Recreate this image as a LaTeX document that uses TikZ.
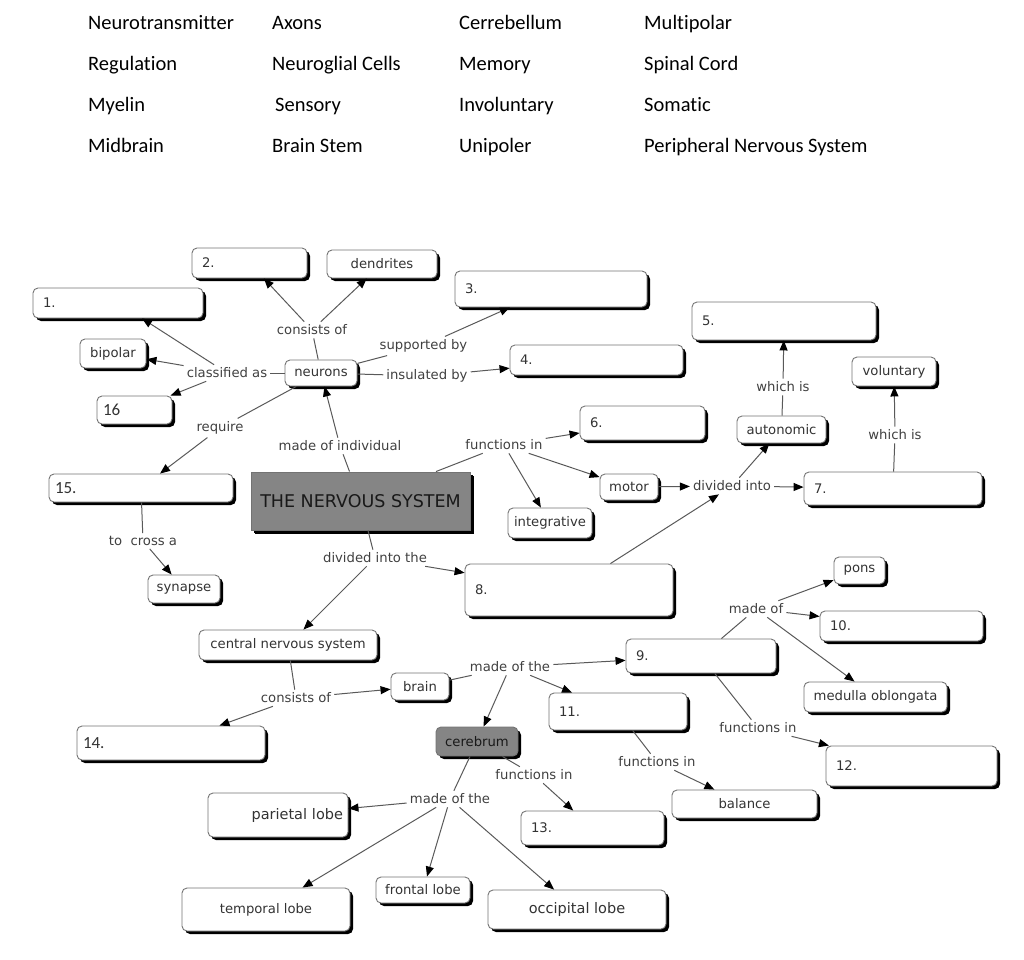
\documentclass[tikz,border=0pt]{standalone}
\usepackage{fontspec}
\usetikzlibrary{arrows.meta,shadows}
\newfontfamily\mapfont{DejaVu Sans}
\newfontfamily\bankfont[Ligatures=NoCommon]{Carlito}

\begin{document}
\begin{tikzpicture}[x=1pt,y=-1pt,
  box/.style={draw=black!55,line width=0.9pt,rounded corners=5pt,fill=white,
    text=black!80,font=\mapfont\fontsize{13.2}{15}\selectfont,inner sep=0pt,
    drop shadow={shadow xshift=3pt,shadow yshift=-3pt,fill=black,opacity=1}},
  blank/.style={box,align=left,inner xsep=10pt},
  blankc/.style={blank,inner xsep=6pt,font=\bankfont\fontsize{17}{19}\selectfont},
  dark/.style={box,fill=black!48,text=black!90},
  link/.style={draw=black!65,line width=1pt},
  arrow/.style={link,-{Triangle[length=10pt,width=8pt,color=black]}},
  lbl/.style={text=black!75,font=\mapfont\fontsize{13.2}{15}\selectfont,inner sep=3pt},
  word/.style={anchor=base west,font=\bankfont\fontsize{20.5}{24}\selectfont,inner sep=0pt}]
%\draw[help lines] (0,0) grid[step=50pt] (1024,959);
\useasboundingbox (0,0) rectangle (1024,959);

% word bank
\foreach \x/\y/\t [count=\n] in {88/29/Neurotransmitter, 272/29/Axons, 459/29/Cerrebellum, 644/29/Multipolar,
    88/70/Regulation, 272/70/Neuroglial Cells, 459/70/Memory, 644/70/Spinal Cord,
    88/111/Myelin, 275/111/Sensory, 459/111/Involuntary, 644/111/Somatic,
    88/152/Midbrain, 272/152/Brain Stem, 459/152/Unipoler, 644/152/Peripheral Nervous System}
  \node[word] (word\n) at (\x,\y) {\t};

% concepts
\node[blank,text width=150pt,minimum height=30pt] (one) at (118,303) {1.};
\node[blank,text width=95pt,minimum height=30pt] (two) at (249.5,263) {2.};
\node[box,minimum width=110pt,minimum height=28pt] (dendrites) at (382,264) {dendrites};
\node[blank,text width=172pt,minimum height=36pt] (three) at (551,289) {3.};
\node[box,minimum width=66pt,minimum height=29pt] (bipolar) at (113,353.5) {bipolar};
\node[box,minimum width=72pt,minimum height=26pt] (neurons) at (321,373) {neurons};
\node[blank,text width=153pt,minimum height=30pt] (four) at (596.5,360) {4.};
\node[blankc,text width=63pt,minimum height=28pt] (sixteen) at (134.5,410) {16};
\node[blank,text width=164pt,minimum height=38pt] (five) at (784,321) {5.};
\node[box,minimum width=84pt,minimum height=29pt] (voluntary) at (894,371.5) {voluntary};
\node[blank,text width=105pt,minimum height=34pt] (six) at (642.5,423) {6.};
\node[box,minimum width=89pt,minimum height=27pt] (autonomic) at (781.5,429.5) {autonomic};
\node[blankc,text width=172pt,minimum height=28pt] (fifteen) at (141,488) {15.};
\node[dark,sharp corners,minimum width=219pt,minimum height=58pt,font=\mapfont\fontsize{17.5}{20}\selectfont,
  drop shadow={shadow xshift=4pt,shadow yshift=-4pt,fill=black,opacity=1}] (ns) at (360.5,501) {THE NERVOUS SYSTEM};
\node[box,minimum width=58pt,minimum height=26pt] (motor) at (629,487) {motor};
\node[blank,text width=158pt,minimum height=33pt] (seven) at (893,488.5) {7.};
\node[box,minimum width=84pt,minimum height=30pt] (integrative) at (550,523) {integrative};
\node[box,minimum width=72pt,minimum height=28pt] (synapse) at (184,589) {synapse};
\node[blank,text width=188pt,minimum height=52pt] (eight) at (569,590) {8.};
\node[box,minimum width=51pt,minimum height=27pt] (pons) at (859.5,570.5) {pons};
\node[blank,text width=143pt,minimum height=30pt] (ten) at (901.5,626) {10.};
\node[box,minimum width=178pt,minimum height=30pt] (cns) at (288,645) {central nervous system};
\node[blank,text width=130pt,minimum height=34pt] (nine) at (701,656) {9.};
\node[box,minimum width=58pt,minimum height=27pt] (brain) at (420,686.5) {brain};
\node[box,minimum width=143pt,minimum height=30pt] (medulla) at (875.5,697) {medulla oblongata};
\node[blank,text width=118pt,minimum height=37pt] (eleven) at (618,711.5) {11.};
\node[blankc,text width=176pt,minimum height=34pt] (fourteen) at (171,743) {14.};
\node[dark,minimum width=82pt,minimum height=29pt] (cerebrum) at (477,741.5) {cerebrum};
\node[blank,text width=151pt,minimum height=40pt] (twelve) at (911.5,766) {12.};
\node[box,minimum width=145pt,minimum height=28pt] (balance) at (744.5,804) {balance};
\node[box,align=right,inner xsep=5pt,text width=130pt,minimum height=44pt,
  font=\mapfont\fontsize{14.5}{16}\selectfont] (parietal) at (278,815) {parietal lobe};
\node[blank,text width=123pt,minimum height=34pt] (thirteen) at (592.5,828) {13.};
\node[box,minimum width=94pt,minimum height=26pt] (frontal) at (423,890) {frontal lobe};
\node[box,minimum width=168pt,minimum height=43pt] (temporal) at (266,909.5) {temporal lobe};
\node[box,minimum width=178pt,minimum height=39pt,
  font=\mapfont\fontsize{14.5}{16}\selectfont] (occipital) at (577,909.5) {occipital lobe};

% linking phrases
\node[lbl] (consists) at (312,330) {consists of};
\node[lbl] (classified) at (227,373) {classified as};
\node[lbl] (supported) at (423.5,346) {supported by};
\node[lbl] (insulated) at (427,376) {insulated by};
\node[lbl] (require) at (220,428) {require};
\node[lbl] (individual) at (340,446) {made of individual};
\node[lbl] (functions) at (504,445) {functions in};
\node[lbl] (divided) at (732,486) {divided into};
\node[lbl] (whichfive) at (783,387) {which is};
\node[lbl] (whichvol) at (895,435) {which is};
\node[lbl] (cross) at (143,541) {to\ \ cross a};
\node[lbl] (dividedthe) at (375,558) {divided into the};
\node[lbl] (madeof) at (756,609) {made of};
\node[lbl] (madebrain) at (510,667) {made of the};
\node[lbl] (consistscns) at (296,698) {consists of};
\node[lbl] (functwelve) at (758,728) {functions in};
\node[lbl] (funcbalance) at (657,762) {functions in};
\node[lbl] (functhirteen) at (534,775) {functions in};
\node[lbl] (madelobes) at (450,799) {made of the};

\foreach \f/\t in {neurons/consists, neurons/classified, neurons/supported, neurons/insulated,
    neurons/require, ns/individual, ns/functions, autonomic/whichfive, seven/whichvol,
    fifteen/cross, ns/dividedthe, nine/madeof, brain/madebrain, cns/consistscns,
    nine/functwelve, eleven/funcbalance, cerebrum/functhirteen, cerebrum/madelobes}
  \draw[link] (\f) -- (\t);

\foreach \f/\t in {consists/two, consists/dendrites, classified/one, classified/bipolar,
    classified/sixteen, supported/three, insulated/four, require/fifteen, individual/neurons,
    functions/six, functions/motor, functions/integrative, motor/divided, eight/divided,
    divided/seven, divided/autonomic, whichfive/five, whichvol/voluntary, cross/synapse,
    dividedthe/eight, dividedthe/cns, madeof/pons, madeof/ten, madeof/medulla,
    madebrain/nine, madebrain/eleven, madebrain/cerebrum, consistscns/brain,
    consistscns/fourteen, functwelve/twelve, funcbalance/balance, functhirteen/thirteen,
    madelobes/parietal, madelobes/temporal, madelobes/frontal, madelobes/occipital}
  \draw[arrow] (\f) -- (\t);
\end{tikzpicture}
\end{document}
